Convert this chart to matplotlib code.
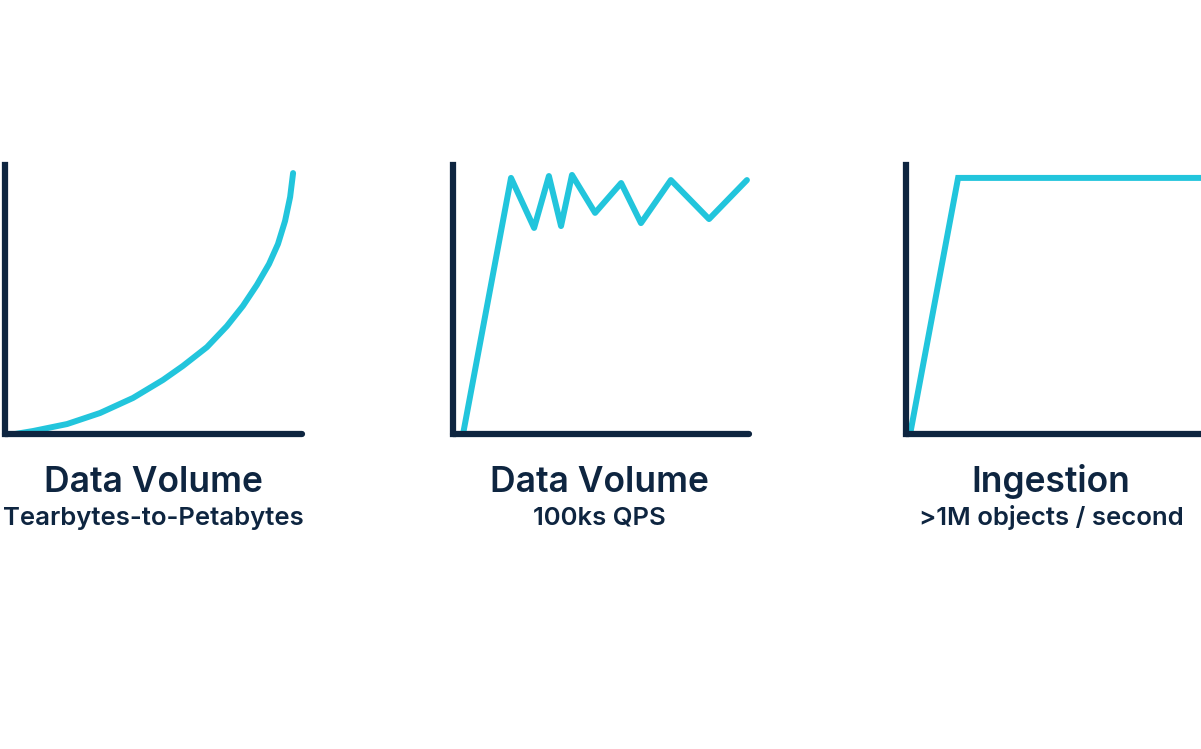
import matplotlib.pyplot as plt

# 色
NAVY = "#0e2540"
CYAN = "#22c5dc"

# パネル1: 指数的な増加
growth_x = [3.4, 9.4, 20.9, 32.0, 43.1, 53.2, 59.9, 68.0, 74.7, 80.1, 84.8, 88.9, 91.9, 94.3, 96.0, 97.0]
growth_y = [0.0, 1.1, 3.7, 7.8, 13.4, 20.1, 25.3, 32.3, 40.1, 47.6, 55.4, 63.2, 70.6, 79.2, 88.1, 97.0]

# パネル2: ギザギザ
qps_x = [3.4, 19.6, 27.4, 32.4, 36.5, 40.2, 48.0, 56.8, 63.5, 73.6, 86.5, 99.3]
qps_y = [0.0, 95.2, 76.6, 95.9, 77.3, 96.3, 82.2, 93.3, 78.4, 94.4, 79.9, 94.4]

# パネル3: 立ち上がって横ばい
ingest_x = [1.4, 17.6, 102.0]
ingest_y = [0.0, 95.2, 95.2]

titles = ["Data Volume", "Data Volume", "Ingestion"]
subtitles = ["Tearbytes-to-Petabytes", "100ks QPS", ">1M objects / second"]

W, H = 1201, 749
fig = plt.figure(figsize=(W / 100, H / 100), dpi=100)
fig.patch.set_facecolor("white")

# 各パネルの位置（ピクセル: 左, 上, 幅, 高さ）
boxes = [(5, 165, 297, 269), (453, 165, 296, 269), (906, 165, 296, 269)]
series = [(growth_x, growth_y, "round"), (qps_x, qps_y, "round"), (ingest_x, ingest_y, "miter")]
text_x = [153, 599, 1051]
fonts = ["Inter", "DejaVu Sans"]

for (left, top, w, h), (xs, ys, join), tx, t, st in zip(boxes, series, text_x, titles, subtitles):
    ax = fig.add_axes([left / W, 1 - (top + h) / H, w / W, h / H])
    ax.set_xlim(0, 100)
    ax.set_ylim(0, 100)
    ax.plot(xs, ys, color=CYAN, lw=4.3, solid_capstyle="round",
            solid_joinstyle=join, clip_on=False, zorder=2)
    for side in ["top", "right"]:
        ax.spines[side].set_visible(False)
    for side in ["left", "bottom"]:
        ax.spines[side].set_color(NAVY)
        ax.spines[side].set_linewidth(4.5)
        ax.spines[side].set_zorder(3)
    ax.spines["bottom"].set_capstyle("round")
    ax.set_xticks([])
    ax.set_yticks([])
    ax.patch.set_alpha(0)

    fig.text(tx / W, 1 - 492 / H, t, ha="center", va="baseline",
             fontsize=25.5, fontweight="semibold", color=NAVY, family=fonts)
    fig.text(tx / W, 1 - 525 / H, st, ha="center", va="baseline",
             fontsize=18.5, fontweight="semibold", color=NAVY, family=fonts)

fig.savefig("out.png", dpi=100, facecolor="white")
